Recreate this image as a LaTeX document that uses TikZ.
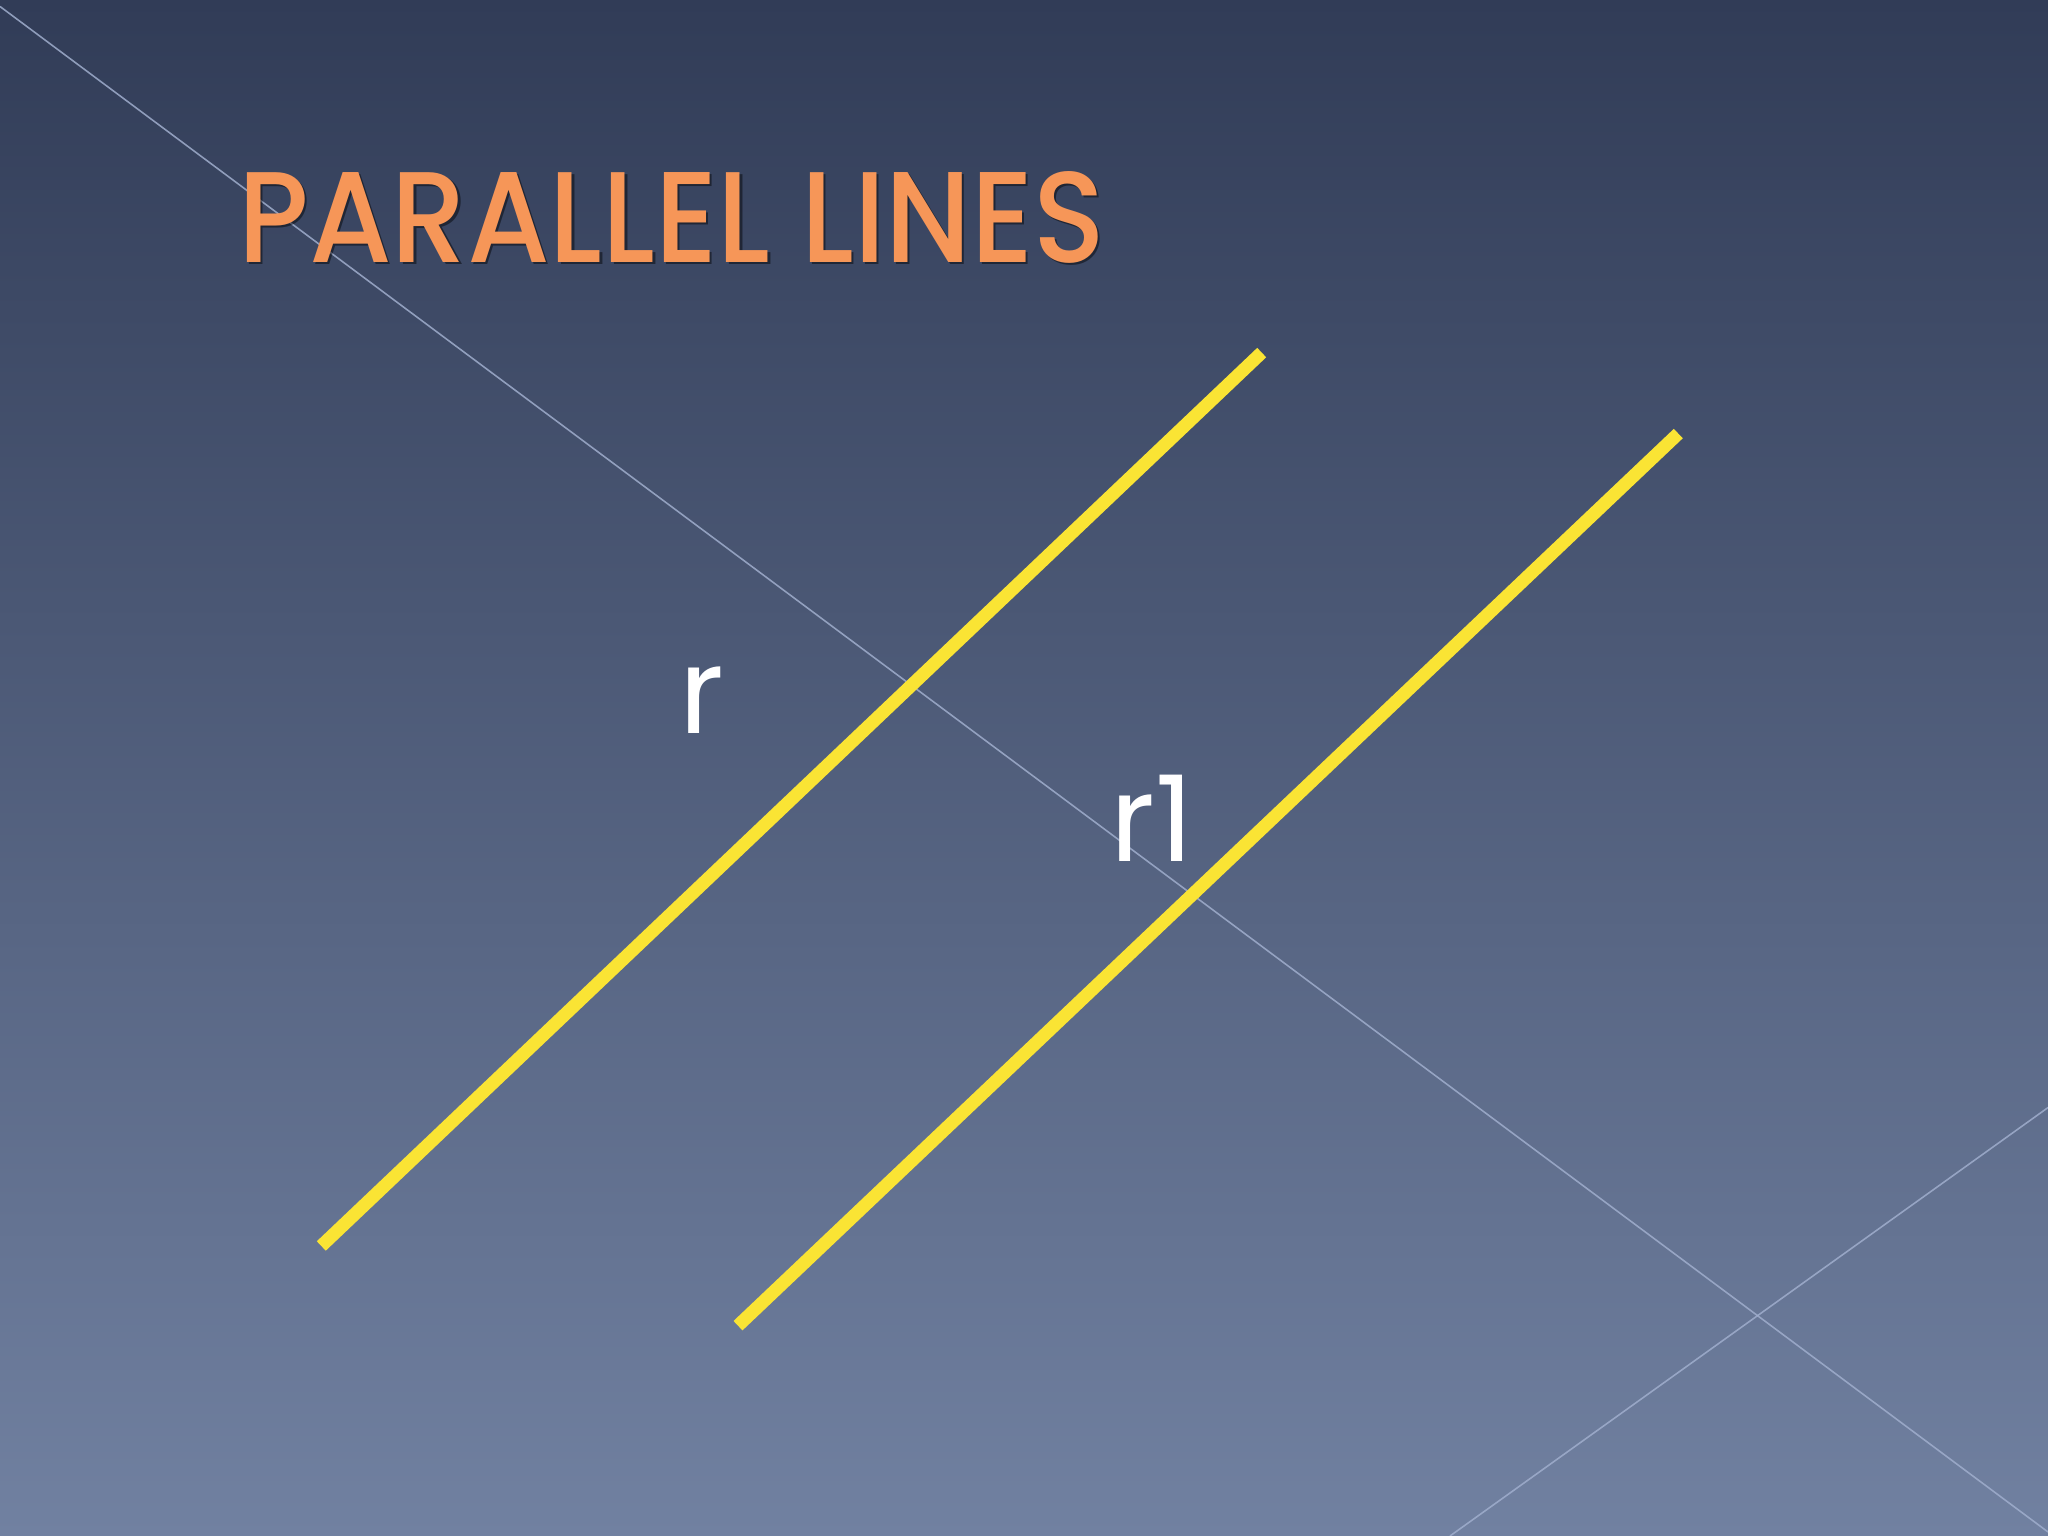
\documentclass[tikz,border=0pt]{standalone}
\usepackage{fontspec}
\setmainfont{Poppins}
\newfontfamily\titlefont{Poppins Medium}
\usepackage{graphicx}
\definecolor{bgtop}{RGB}{49,60,87}
\definecolor{bgbot}{RGB}{113,129,161}
\definecolor{lineyellow}{RGB}{250,228,52}
\definecolor{titleorange}{RGB}{246,150,88}
\definecolor{thinline}{RGB}{160,174,205}
\tikzset{
  parline/.style={draw=lineyellow, line width=3.7pt, line cap=butt},
  decoline/.style={draw=thinline, line width=0.45pt, opacity=0.85},
  label/.style={inner sep=0pt, anchor=base west, text=white, font=\fontsize{34}{40}\selectfont},
  titletext/.style={inner sep=0pt, anchor=south west, font=\titlefont}
}
\begin{document}
\begin{tikzpicture}
\useasboundingbox (0,0) rectangle (20.48,15.36);
\shade[top color=bgtop, bottom color=bgbot] (0,0) rectangle (20.48,15.36);
% thin decorative lines
\coordinate (t1a) at (0,15.295);
\coordinate (t1b) at (20.48,0.04);
\coordinate (t2a) at (14.50,0);
\coordinate (t2b) at (20.48,4.284);
\draw[decoline] (t1a) -- (t1b);
\draw[decoline] (t2a) -- (t2b);
% title with shadow
\node[titletext, text=black, opacity=0.45] (titleshadow) at (2.40,12.695) {\resizebox{8.67cm}{0.91cm}{PARALLEL LINES}};
\node[titletext, text=titleorange] (title) at (2.377,12.72) {\resizebox{8.67cm}{0.91cm}{PARALLEL LINES}};
% parallel lines
\coordinate (ra) at (3.213,2.90);
\coordinate (rb) at (12.617,11.834);
\coordinate (r1a) at (7.38,2.103);
\coordinate (r1b) at (16.783,11.024);
\draw[parline] (ra) -- (rb);
\draw[parline] (r1a) -- (r1b);
% labels
\node[label] (lr) at (6.79,8.02) {r};
\node[label] (lr1) at (11.10,6.74) {r1};
\end{tikzpicture}
\end{document}
